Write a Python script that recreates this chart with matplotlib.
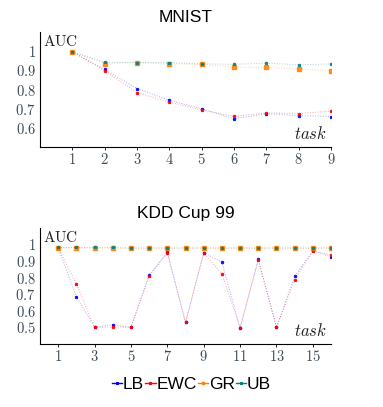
import numpy as np
import matplotlib as mpl
import matplotlib.pyplot as plt

mpl.rcParams['mathtext.fontset'] = 'cm'

methods = ['LB', 'EWC', 'GR', 'UB']
colors = ['#0000ff', '#ff0000', '#ff8000', '#008080']
markers = ['*', '*', 's', '*']

# MNIST, tasks 1..9
mnist_tasks = np.arange(1, 10)
mnist_lb = [0.997, 0.905, 0.805, 0.743, 0.700, 0.647, 0.674, 0.664, 0.659]
mnist_ewc = [0.997, 0.898, 0.784, 0.734, 0.693, 0.660, 0.678, 0.674, 0.688]
mnist_gr = [0.997, 0.936, 0.941, 0.936, 0.931, 0.917, 0.916, 0.907, 0.898]
mnist_ub = [0.997, 0.943, 0.941, 0.941, 0.934, 0.932, 0.938, 0.929, 0.934]

# KDD Cup 99, tasks 1..16
kdd_tasks = np.arange(1, 17)
kdd_lb = [0.980, 0.686, 0.500, 0.516, 0.500, 0.814, 0.953, 0.530,
          0.951, 0.893, 0.496, 0.911, 0.500, 0.808, 0.964, 0.925]
kdd_ewc = [0.980, 0.763, 0.500, 0.502, 0.500, 0.810, 0.950, 0.530,
           0.947, 0.824, 0.496, 0.907, 0.500, 0.787, 0.960, 0.937]
kdd_gr = [0.980, 0.978, 0.978, 0.977, 0.976, 0.976, 0.976, 0.976,
          0.976, 0.976, 0.976, 0.976, 0.976, 0.976, 0.976, 0.976]
kdd_ub = [0.982, 0.982, 0.982, 0.982, 0.980, 0.980, 0.980, 0.980,
          0.980, 0.980, 0.980, 0.980, 0.980, 0.980, 0.980, 0.980]

fig = plt.figure(figsize=(3.83, 4.07), dpi=100)
ax1 = fig.add_axes([0.1044, 0.639, 0.760, 0.282])
ax2 = fig.add_axes([0.1044, 0.155, 0.760, 0.285])

tick_color = '#3a4a5a'


def style(ax, title, xlim, ylim, xticks, yticks):
    ax.set_xlim(*xlim)
    ax.set_ylim(*ylim)
    ax.set_xticks(xticks)
    ax.set_yticks(yticks)
    ax.set_yticklabels([r'$%g$' % v for v in yticks], fontsize=10.5,
                       color=tick_color)
    ax.set_xticklabels([r'$%d$' % v for v in xticks], fontsize=10.5,
                       color=tick_color)
    ax.spines['top'].set_visible(False)
    ax.spines['right'].set_visible(False)
    ax.tick_params(axis='x', length=2, width=0.6, pad=2)
    ax.tick_params(axis='y', length=0, pad=3)
    ax.set_title(title, fontsize=12.5, family='Liberation Sans', pad=7)
    ax.text(0.01, 0.985, r'$\mathrm{AUC}$', transform=ax.transAxes,
            fontsize=11, va='top', ha='left', color='#222222')
    ax.text(0.985, 0.03, r'$task$', transform=ax.transAxes, fontsize=12,
            va='bottom', ha='right', color='#222222')


series1 = [mnist_lb, mnist_ewc, mnist_gr, mnist_ub]
series2 = [kdd_lb, kdd_ewc, kdd_gr, kdd_ub]
for ax, x, series in [(ax1, mnist_tasks, series1), (ax2, kdd_tasks, series2)]:
    for y, c, m, name in zip(series, colors, markers, methods):
        ax.plot(x, y, color=c, linestyle=':', linewidth=0.7, alpha=0.35)
        ax.plot(x, y, color=c, linestyle='none', marker=m,
                markersize=2.2, alpha=0.85)

style(ax1, 'MNIST', (0, 9), (0.5, 1.1), list(range(1, 10)),
      [0.6, 0.7, 0.8, 0.9, 1.0])
style(ax2, 'KDD Cup 99', (0, 16), (0.4, 1.1), list(range(1, 16, 2)),
      [0.5, 0.6, 0.7, 0.8, 0.9, 1.0])

handles = [mpl.lines.Line2D([], [], color=c, marker=m, markersize=2,
                            linewidth=1) for c, m in zip(colors, markers)]
fig.legend(handles, methods, loc='center', bbox_to_anchor=(0.5, 0.055),
           ncol=4, frameon=False, handlelength=0.6, handletextpad=0.05,
           columnspacing=0.05, prop={'family': 'Liberation Sans', 'size': 12.5})

fig.savefig('out.png', dpi=100)
